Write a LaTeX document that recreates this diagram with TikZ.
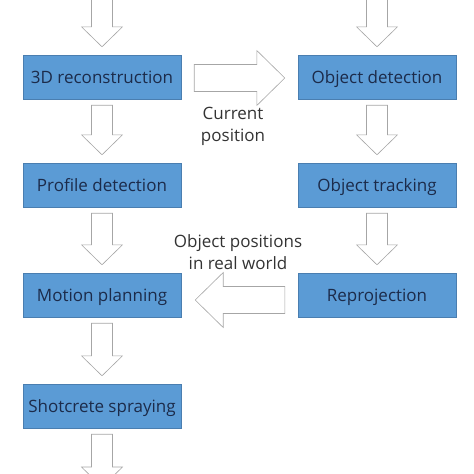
\documentclass[tikz,border=0pt]{standalone}
\usepackage{fontspec}
\setmainfont{Open Sans}
\usepackage{tikz}
\usetikzlibrary{calc, positioning}

\definecolor{boxblue}{HTML}{5B9BD5}
\definecolor{boxedge}{HTML}{4A7EB0}
\definecolor{boxtext}{HTML}{1C2B4A}
\definecolor{arrgray}{HTML}{A6A6A6}

% block arrow pointing down, from below node #1 to above node #2
\newcommand{\downarr}[2]{%
  \draw[blockarr] ($(#1.south)+(-10.5,6)$) -- ($(#2.north)+(-10.5,-28)$)
    -- ($(#2.north)+(-20.5,-28)$) -- ($(#2.north)+(0,-8)$)
    -- ($(#2.north)+(20.5,-28)$) -- ($(#2.north)+(10.5,-28)$)
    -- ($(#1.south)+(10.5,6)$) -- cycle;}
% block arrow sideways, tail #1, tip #2, head offset #3
\newcommand{\sidearr}[3]{%
  \draw[blockarr] ($(#1)+(0,-13.5)$) -- ($(#2)+(#3,-13.5)$)
    -- ($(#2)+(#3,-27.5)$) -- (#2) -- ($(#2)+(#3,27.5)$)
    -- ($(#2)+(#3,13.5)$) -- ($(#1)+(0,13.5)$) -- cycle;}

\begin{document}
\begin{tikzpicture}[x=1pt, y=-1pt,
  box/.style={draw=boxedge, fill=boxblue, text=boxtext, minimum width=158pt,
    minimum height=44pt, inner sep=0pt, text height=12.5pt, text depth=0.5pt,
    font=\fontsize{17}{19}\selectfont},
  blockarr/.style={draw=arrgray, fill=white, line width=0.6pt, line join=miter},
  lbl/.style={align=center, text=black!80, font=\fontsize{17}{22}\selectfont}]
  \useasboundingbox (0,0) rectangle (474,474);
  \clip (0,0) rectangle (474,474);

  % Left column
  \node[box] (rec)  at (102,77)  {3D reconstruction};
  \node[box] (prof) at (102,185) {Profile detection};
  \node[box] (mot)  at (102,295) {Motion planning};
  \node[box] (shot) at (102,406) {Shotcrete spraying};

  % Right column
  \node[box] (obj)  at (377,77)  {Object detection};
  \node[box] (trk)  at (377,185) {Object tracking};
  \node[box] (rep)  at (377,295) {Reprojection};

  % free ends at the edges
  \coordinate (topL) at (102,-10);
  \coordinate (topR) at (377,-10);
  \coordinate (botL) at (102,495);

  \downarr{topL}{rec}
  \downarr{rec}{prof}
  \downarr{prof}{mot}
  \downarr{mot}{shot}
  \downarr{shot}{botL}
  \downarr{topR}{obj}
  \downarr{obj}{trk}
  \downarr{trk}{rep}

  % sideways arrows
  \coordinate (cpT) at ($(rec.east)+(13,1)$);
  \coordinate (cpH) at ($(obj.west)+(-13,1)$);
  \sidearr{cpT}{cpH}{-28}
  \coordinate (opT) at ($(rep.west)+(-13,5)$);
  \coordinate (opH) at ($(mot.east)+(14,5)$);
  \sidearr{opT}{opH}{28}

  \node[lbl] (cur) at (233,126) {Current\\position};
  \node[lbl] (opos) at (238,252) {Object positions\\in real world};
\end{tikzpicture}
\end{document}
